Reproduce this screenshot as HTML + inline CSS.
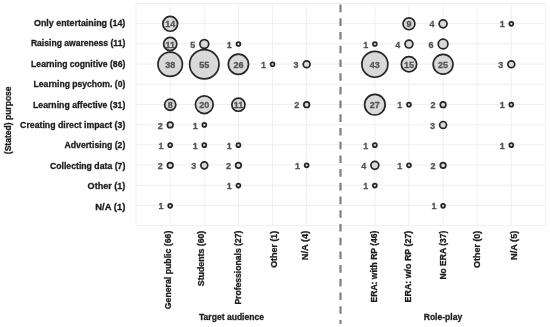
<!DOCTYPE html><html><head><meta charset="utf-8"><style>html,body{margin:0;padding:0;background:#fff;width:550px;height:327px;overflow:hidden}svg{display:block}</style></head><body><svg width="550" height="327" viewBox="0 0 550 327">
<rect width="550" height="327" fill="#fff"/>
<path d="M136.09 3.45V225.65M170.20 3.45V225.65M204.31 3.45V225.65M238.42 3.45V225.65M272.53 3.45V225.65M306.64 3.45V225.65M374.86 3.45V225.65M408.97 3.45V225.65M443.08 3.45V225.65M477.19 3.45V225.65M511.30 3.45V225.65M545.41 3.45V225.65M136.09 3.45H545.41M136.09 23.65H545.41M136.09 43.85H545.41M136.09 64.05H545.41M136.09 84.25H545.41M136.09 104.45H545.41M136.09 124.65H545.41M136.09 144.85H545.41M136.09 165.05H545.41M136.09 185.25H545.41M136.09 205.45H545.41M136.09 225.65H545.41" stroke="#efefef" stroke-width="1" fill="none"/>
<line x1="340.5" y1="4.6" x2="340.5" y2="324" stroke="#808080" stroke-width="2.2" stroke-dasharray="7.6 6.11"/>
<circle cx="204.31" cy="64.26" r="14.68" fill="#d9d9d9" stroke="#262626" stroke-width="1.7"/>
<circle cx="374.86" cy="64.26" r="12.98" fill="#d9d9d9" stroke="#262626" stroke-width="1.7"/>
<circle cx="170.20" cy="64.26" r="12.21" fill="#d9d9d9" stroke="#262626" stroke-width="1.7"/>
<circle cx="374.86" cy="104.70" r="10.29" fill="#d9d9d9" stroke="#262626" stroke-width="1.7"/>
<circle cx="238.42" cy="64.26" r="10.10" fill="#d9d9d9" stroke="#262626" stroke-width="1.7"/>
<circle cx="443.08" cy="64.26" r="9.90" fill="#d9d9d9" stroke="#262626" stroke-width="1.7"/>
<circle cx="204.31" cy="104.70" r="8.85" fill="#d9d9d9" stroke="#262626" stroke-width="1.7"/>
<circle cx="408.97" cy="64.26" r="7.67" fill="#d9d9d9" stroke="#262626" stroke-width="1.7"/>
<circle cx="170.20" cy="23.82" r="7.41" fill="#d9d9d9" stroke="#262626" stroke-width="1.7"/>
<circle cx="170.20" cy="44.04" r="6.57" fill="#d9d9d9" stroke="#262626" stroke-width="1.7"/>
<circle cx="238.42" cy="104.70" r="6.57" fill="#d9d9d9" stroke="#262626" stroke-width="1.7"/>
<circle cx="408.97" cy="23.82" r="5.94" fill="#d9d9d9" stroke="#262626" stroke-width="1.7"/>
<circle cx="170.20" cy="104.70" r="5.60" fill="#d9d9d9" stroke="#262626" stroke-width="1.7"/>
<circle cx="443.08" cy="44.04" r="4.85" fill="#d9d9d9" stroke="#262626" stroke-width="1.7"/>
<circle cx="204.31" cy="44.04" r="4.43" fill="#d9d9d9" stroke="#262626" stroke-width="1.7"/>
<circle cx="443.08" cy="23.82" r="3.96" fill="#d9d9d9" stroke="#262626" stroke-width="1.7"/>
<circle cx="408.97" cy="44.04" r="3.96" fill="#d9d9d9" stroke="#262626" stroke-width="1.7"/>
<circle cx="374.86" cy="165.36" r="3.96" fill="#d9d9d9" stroke="#262626" stroke-width="1.7"/>
<circle cx="306.64" cy="64.26" r="3.43" fill="#d9d9d9" stroke="#262626" stroke-width="1.7"/>
<circle cx="511.30" cy="64.26" r="3.43" fill="#d9d9d9" stroke="#262626" stroke-width="1.7"/>
<circle cx="443.08" cy="124.92" r="3.43" fill="#d9d9d9" stroke="#262626" stroke-width="1.7"/>
<circle cx="204.31" cy="165.36" r="3.43" fill="#d9d9d9" stroke="#262626" stroke-width="1.7"/>
<circle cx="306.64" cy="104.70" r="2.80" fill="#d9d9d9" stroke="#262626" stroke-width="1.7"/>
<circle cx="443.08" cy="104.70" r="2.80" fill="#d9d9d9" stroke="#262626" stroke-width="1.7"/>
<circle cx="170.20" cy="124.92" r="2.80" fill="#d9d9d9" stroke="#262626" stroke-width="1.7"/>
<circle cx="170.20" cy="165.36" r="2.80" fill="#d9d9d9" stroke="#262626" stroke-width="1.7"/>
<circle cx="238.42" cy="165.36" r="2.80" fill="#d9d9d9" stroke="#262626" stroke-width="1.7"/>
<circle cx="443.08" cy="165.36" r="2.80" fill="#d9d9d9" stroke="#262626" stroke-width="1.7"/>
<circle cx="511.30" cy="23.82" r="1.98" fill="#d9d9d9" stroke="#262626" stroke-width="1.7"/>
<circle cx="238.42" cy="44.04" r="1.98" fill="#d9d9d9" stroke="#262626" stroke-width="1.7"/>
<circle cx="374.86" cy="44.04" r="1.98" fill="#d9d9d9" stroke="#262626" stroke-width="1.7"/>
<circle cx="272.53" cy="64.26" r="1.98" fill="#d9d9d9" stroke="#262626" stroke-width="1.7"/>
<circle cx="408.97" cy="104.70" r="1.98" fill="#d9d9d9" stroke="#262626" stroke-width="1.7"/>
<circle cx="511.30" cy="104.70" r="1.98" fill="#d9d9d9" stroke="#262626" stroke-width="1.7"/>
<circle cx="204.31" cy="124.92" r="1.98" fill="#d9d9d9" stroke="#262626" stroke-width="1.7"/>
<circle cx="170.20" cy="145.14" r="1.98" fill="#d9d9d9" stroke="#262626" stroke-width="1.7"/>
<circle cx="204.31" cy="145.14" r="1.98" fill="#d9d9d9" stroke="#262626" stroke-width="1.7"/>
<circle cx="238.42" cy="145.14" r="1.98" fill="#d9d9d9" stroke="#262626" stroke-width="1.7"/>
<circle cx="374.86" cy="145.14" r="1.98" fill="#d9d9d9" stroke="#262626" stroke-width="1.7"/>
<circle cx="511.30" cy="145.14" r="1.98" fill="#d9d9d9" stroke="#262626" stroke-width="1.7"/>
<circle cx="306.64" cy="165.36" r="1.98" fill="#d9d9d9" stroke="#262626" stroke-width="1.7"/>
<circle cx="408.97" cy="165.36" r="1.98" fill="#d9d9d9" stroke="#262626" stroke-width="1.7"/>
<circle cx="238.42" cy="185.58" r="1.98" fill="#d9d9d9" stroke="#262626" stroke-width="1.7"/>
<circle cx="374.86" cy="185.58" r="1.98" fill="#d9d9d9" stroke="#262626" stroke-width="1.7"/>
<circle cx="170.20" cy="205.80" r="1.98" fill="#d9d9d9" stroke="#262626" stroke-width="1.7"/>
<circle cx="443.08" cy="205.80" r="1.98" fill="#d9d9d9" stroke="#262626" stroke-width="1.7"/>
<g font-family="'Liberation Sans', sans-serif" font-weight="bold" font-size="9" fill="#555555" stroke="#555555" stroke-width="0.3">
<text x="170.20" y="27.42" text-anchor="middle">14</text>
<text x="408.97" y="27.42" text-anchor="middle">9</text>
<text x="434.47" y="27.42" text-anchor="end">4</text>
<text x="504.67" y="27.42" text-anchor="end">1</text>
<text x="170.20" y="47.64" text-anchor="middle">11</text>
<text x="195.23" y="47.64" text-anchor="end">5</text>
<text x="231.79" y="47.64" text-anchor="end">1</text>
<text x="368.23" y="47.64" text-anchor="end">1</text>
<text x="400.36" y="47.64" text-anchor="end">4</text>
<text x="433.58" y="47.64" text-anchor="end">6</text>
<text x="170.20" y="67.86" text-anchor="middle">38</text>
<text x="204.31" y="67.86" text-anchor="middle">55</text>
<text x="238.42" y="67.86" text-anchor="middle">26</text>
<text x="265.90" y="67.86" text-anchor="end">1</text>
<text x="298.56" y="67.86" text-anchor="end">3</text>
<text x="374.86" y="67.86" text-anchor="middle">43</text>
<text x="408.97" y="67.86" text-anchor="middle">15</text>
<text x="443.08" y="67.86" text-anchor="middle">25</text>
<text x="503.22" y="67.86" text-anchor="end">3</text>
<text x="170.20" y="108.30" text-anchor="middle">8</text>
<text x="204.31" y="108.30" text-anchor="middle">20</text>
<text x="238.42" y="108.30" text-anchor="middle">11</text>
<text x="299.19" y="108.30" text-anchor="end">2</text>
<text x="374.86" y="108.30" text-anchor="middle">27</text>
<text x="402.34" y="108.30" text-anchor="end">1</text>
<text x="435.63" y="108.30" text-anchor="end">2</text>
<text x="504.67" y="108.30" text-anchor="end">1</text>
<text x="162.75" y="128.52" text-anchor="end">2</text>
<text x="197.68" y="128.52" text-anchor="end">1</text>
<text x="435.00" y="128.52" text-anchor="end">3</text>
<text x="163.57" y="148.74" text-anchor="end">1</text>
<text x="197.68" y="148.74" text-anchor="end">1</text>
<text x="231.79" y="148.74" text-anchor="end">1</text>
<text x="368.23" y="148.74" text-anchor="end">1</text>
<text x="504.67" y="148.74" text-anchor="end">1</text>
<text x="162.75" y="168.96" text-anchor="end">2</text>
<text x="196.23" y="168.96" text-anchor="end">3</text>
<text x="230.97" y="168.96" text-anchor="end">2</text>
<text x="300.01" y="168.96" text-anchor="end">1</text>
<text x="366.25" y="168.96" text-anchor="end">4</text>
<text x="402.34" y="168.96" text-anchor="end">1</text>
<text x="435.63" y="168.96" text-anchor="end">2</text>
<text x="231.79" y="189.18" text-anchor="end">1</text>
<text x="368.23" y="189.18" text-anchor="end">1</text>
<text x="163.57" y="209.40" text-anchor="end">1</text>
<text x="436.45" y="209.40" text-anchor="end">1</text>
</g>
<g font-family="'Liberation Sans', sans-serif" font-weight="bold" font-size="9" fill="#1c1c1c" stroke="#1c1c1c" stroke-width="0.3">
<text x="34.00" y="25.90" textLength="91.30" lengthAdjust="spacingAndGlyphs">Only entertaining (14)</text>
<text x="30.90" y="46.30" textLength="94.40" lengthAdjust="spacingAndGlyphs">Raising awareness (11)</text>
<text x="31.10" y="66.70" textLength="94.20" lengthAdjust="spacingAndGlyphs">Learning cognitive (86)</text>
<text x="33.60" y="87.10" textLength="91.70" lengthAdjust="spacingAndGlyphs">Learning psychom. (0)</text>
<text x="33.00" y="107.50" textLength="92.30" lengthAdjust="spacingAndGlyphs">Learning affective (31)</text>
<text x="20.10" y="127.90" textLength="105.20" lengthAdjust="spacingAndGlyphs">Creating direct impact (3)</text>
<text x="64.50" y="148.30" textLength="60.80" lengthAdjust="spacingAndGlyphs">Advertising (2)</text>
<text x="49.90" y="168.70" textLength="75.40" lengthAdjust="spacingAndGlyphs">Collecting data (7)</text>
<text x="87.60" y="189.10" textLength="37.70" lengthAdjust="spacingAndGlyphs">Other (1)</text>
<text x="95.30" y="209.50" textLength="30.00" lengthAdjust="spacingAndGlyphs">N/A (1)</text>
<text transform="translate(171.30 309.20) rotate(-90)" x="0" y="0" textLength="78.50" lengthAdjust="spacingAndGlyphs">General public (66)</text>
<text transform="translate(204.40 286.20) rotate(-90)" x="0" y="0" textLength="55.50" lengthAdjust="spacingAndGlyphs">Students (60)</text>
<text transform="translate(240.50 304.60) rotate(-90)" x="0" y="0" textLength="73.90" lengthAdjust="spacingAndGlyphs">Professionals (27)</text>
<text transform="translate(276.80 267.80) rotate(-90)" x="0" y="0" textLength="37.10" lengthAdjust="spacingAndGlyphs">Other (1)</text>
<text transform="translate(307.90 260.20) rotate(-90)" x="0" y="0" textLength="29.50" lengthAdjust="spacingAndGlyphs">N/A (4)</text>
<text transform="translate(376.50 302.40) rotate(-90)" x="0" y="0" textLength="71.70" lengthAdjust="spacingAndGlyphs">ERA: with RP (46)</text>
<text transform="translate(410.80 302.40) rotate(-90)" x="0" y="0" textLength="71.70" lengthAdjust="spacingAndGlyphs">ERA: w/o RP (27)</text>
<text transform="translate(446.10 279.60) rotate(-90)" x="0" y="0" textLength="48.90" lengthAdjust="spacingAndGlyphs">No ERA (37)</text>
<text transform="translate(479.50 267.90) rotate(-90)" x="0" y="0" textLength="37.20" lengthAdjust="spacingAndGlyphs">Other (0)</text>
<text transform="translate(516.50 259.90) rotate(-90)" x="0" y="0" textLength="29.20" lengthAdjust="spacingAndGlyphs">N/A (5)</text>
<text x="199" y="320.4" textLength="65" lengthAdjust="spacingAndGlyphs">Target audience</text>
<text x="423.7" y="320.1" textLength="38.6" lengthAdjust="spacingAndGlyphs">Role-play</text>
<text transform="translate(11.1 154.2) rotate(-90)" x="0" y="0" textLength="67.8" lengthAdjust="spacingAndGlyphs">(Stated) purpose</text>
</g>
</svg></body></html>
